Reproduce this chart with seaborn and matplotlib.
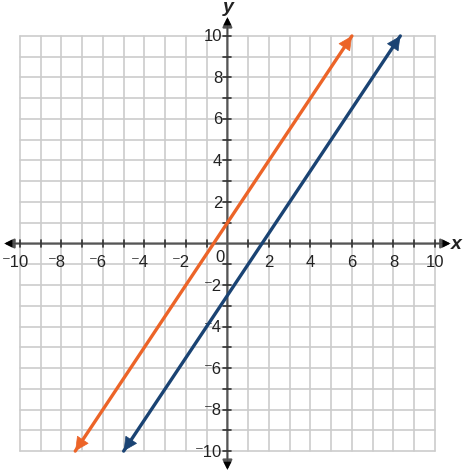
import matplotlib
matplotlib.use("Agg")
import matplotlib.pyplot as plt
import seaborn as sns
import pandas as pd

sns.set_theme(style="white")
plt.rcParams['font.family'] = ['Liberation Sans', 'DejaVu Sans']

# data
orange_x = [-22/3, 6]
orange_y = [-10, 10]
blue_x = [-5, 25/3]
blue_y = [-10, 10]
tick_vals = [-10, -8, -6, -4, -2, 2, 4, 6, 8, 10]

ORANGE = "#ec6428"
BLUE = "#1a4373"
GRID = "#cccccc"
AXIS = "#555555"

fig = plt.figure(figsize=(4.65, 4.77), dpi=100)
ax = fig.add_axes([0, 0, 1, 1])
ax.set_xlim(-10.96, 11.45)
ax.set_ylim(-11.2, 11.78)
ax.axis("off")

# grid
for v in range(-10, 11):
    ax.plot([v, v], [-10, 10], color=GRID, lw=1.2, zorder=1)
    ax.plot([-10, 10], [v, v], color=GRID, lw=1.2, zorder=1)

# axes with arrows
ax.annotate("", xy=(10.75, 0), xytext=(-10.75, 0),
            arrowprops=dict(arrowstyle="<|-|>", color=AXIS, lw=1.6,
                            mutation_scale=14, shrinkA=0, shrinkB=0), zorder=3)
ax.annotate("", xy=(0, 10.9), xytext=(0, -10.9),
            arrowprops=dict(arrowstyle="<|-|>", color=AXIS, lw=1.6,
                            mutation_scale=14, shrinkA=0, shrinkB=0), zorder=3)
for (x0, y0, x1, y1) in [(10.0, 0, 10.75, 0), (-10.0, 0, -10.75, 0),
                         (0, 10.1, 0, 10.9), (0, -10.1, 0, -10.9)]:
    ax.annotate("", xy=(x1, y1), xytext=(x0, y0),
                arrowprops=dict(arrowstyle="-|>", color="black", lw=0.1,
                                mutation_scale=14, shrinkA=0, shrinkB=0), zorder=4)

# tick marks
tl = 0.19
for v in range(-10, 11):
    if v == 0:
        continue
    ax.plot([v, v], [-tl, tl], color="#333333", lw=1.2, zorder=4)
    ax.plot([-tl, tl], [v, v], color="#333333", lw=1.2, zorder=4)

# tick labels
fs = 12
for v in tick_vals:
    s = str(abs(v))
    if v < 0:
        ax.text(v - 0.22, -0.85, "\u207b" + s, ha="center", va="center", fontsize=fs, color="#222222")
        ax.text(-0.25, v, "\u207b" + s, ha="right", va="center", fontsize=fs, color="#222222")
    else:
        ax.text(v, -0.85, s, ha="center", va="center", fontsize=fs, color="#222222")
        ax.text(-0.25, v, s, ha="right", va="center", fontsize=fs, color="#222222")
ax.text(-0.36, -0.62, "0", ha="center", va="center", fontsize=fs, color="#222222")

ax.text(11.05, 0, "x", ha="center", va="center", fontsize=14, style="italic", fontweight="bold", color="#222222")
ax.text(0.05, 11.4, "y", ha="center", va="center", fontsize=14, style="italic", fontweight="bold", color="#222222")

# lines
df_o = pd.DataFrame({"x": orange_x, "y": orange_y})
df_b = pd.DataFrame({"x": blue_x, "y": blue_y})
sns.lineplot(data=df_o, x="x", y="y", ax=ax, color=ORANGE, lw=2.4, sort=False, zorder=5)
sns.lineplot(data=df_b, x="x", y="y", ax=ax, color=BLUE, lw=2.4, sort=False, zorder=5)

for xs, ys, c in [(orange_x, orange_y, ORANGE), (blue_x, blue_y, BLUE)]:
    dx = xs[1] - xs[0]
    dy = ys[1] - ys[0]
    f = 0.06
    ax.annotate("", xy=(xs[1], ys[1]), xytext=(xs[1] - f * dx, ys[1] - f * dy),
                arrowprops=dict(arrowstyle="-|>", color=c, lw=0.5, mutation_scale=23,
                                shrinkA=0, shrinkB=0), zorder=6)
    ax.annotate("", xy=(xs[0], ys[0]), xytext=(xs[0] + f * dx, ys[0] + f * dy),
                arrowprops=dict(arrowstyle="-|>", color=c, lw=0.5, mutation_scale=23,
                                shrinkA=0, shrinkB=0), zorder=6)

fig.savefig("out.png", dpi=100)
